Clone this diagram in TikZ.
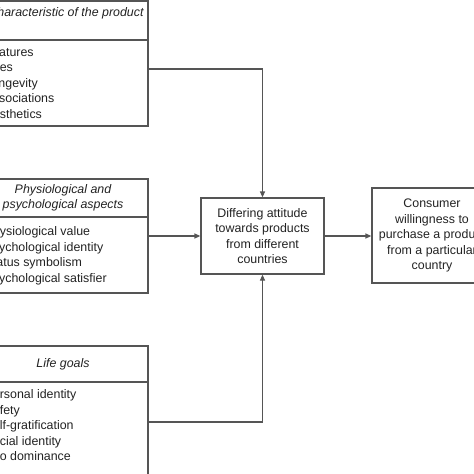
\documentclass[tikz,border=0pt]{standalone}
\usepackage{fontspec}
\setmainfont{Liberation Sans}
\usetikzlibrary{arrows.meta}
\definecolor{lineC}{HTML}{555555}
\definecolor{txtC}{HTML}{222222}
\begin{document}
\begin{tikzpicture}[x=1pt,y=-1pt,
  every node/.style={text=txtC, font=\fontsize{12.4}{15.5}\selectfont},
  box/.style={draw=lineC, line width=1.2pt, inner sep=0pt},
  hd/.style={align=center, inner sep=0pt, font=\fontsize{12.4}{15}\selectfont\itshape},
  lst/.style={align=left, anchor=north west, inner sep=0pt},
  ctr/.style={align=center},
  arr/.style={draw=lineC, line width=1.2pt, -{Triangle[length=6pt,width=5pt]}}]
\useasboundingbox (0,0) rectangle (474,474);
\clip (0,0) rectangle (474,474);
% Box 1
\node[box, minimum width=170pt, minimum height=39pt] (h1) at (63,20.5) {};
\node[box, minimum width=170pt, minimum height=86pt] (l1) at (63,83) {};
\node[hd, anchor=base] (t1) at (66,16) {Characteristic of the product};
\node[lst] (i1) at (-15.5,47.5) {Features\\Uses\\Longevity\\Associations\\Aesthetics};
% Box 2
\node[box, minimum width=170pt, minimum height=38pt] (h2) at (63,198) {};
\node[box, minimum width=170pt, minimum height=76pt] (l2) at (63,255) {};
\node[hd] (t2) at (h2) {Physiological and\\psychological aspects};
\node[lst] (i2) at (-15.5,226.5) {Physiological value\\Psychological identity\\Status symbolism\\Psychological satisfier};
% Box 3
\node[box, minimum width=170pt, minimum height=36pt] (h3) at (63,364) {};
\node[box, minimum width=170pt, minimum height=108pt] (l3) at (63,436) {};
\node[hd] (t3) at (h3) {Life goals};
\node[lst] (i3) at (-15.5,389.5) {Personal identity\\Safety\\Self-gratification\\Social identity\\Ego dominance};
% Middle
\node[box, ctr, minimum width=123pt, minimum height=76pt] (mid) at (262.5,236) {Differing attitude\\towards products\\from different\\countries};
% Right
\node[box, ctr, minimum width=120pt, minimum height=95pt] (cons) at (432,235.5) {Consumer\\willingness to\\purchase a product\\from a particular\\country};
% Connectors
\draw[arr] ([yshift=14pt]l1.east) -| (mid.north);
\draw[arr] (l2.east |- mid.west) -- (mid.west);
\draw[arr] ([yshift=14pt]l3.east) -| (mid.south);
\draw[arr] (mid.east) -- (cons.west |- mid.east);
\end{tikzpicture}
\end{document}
